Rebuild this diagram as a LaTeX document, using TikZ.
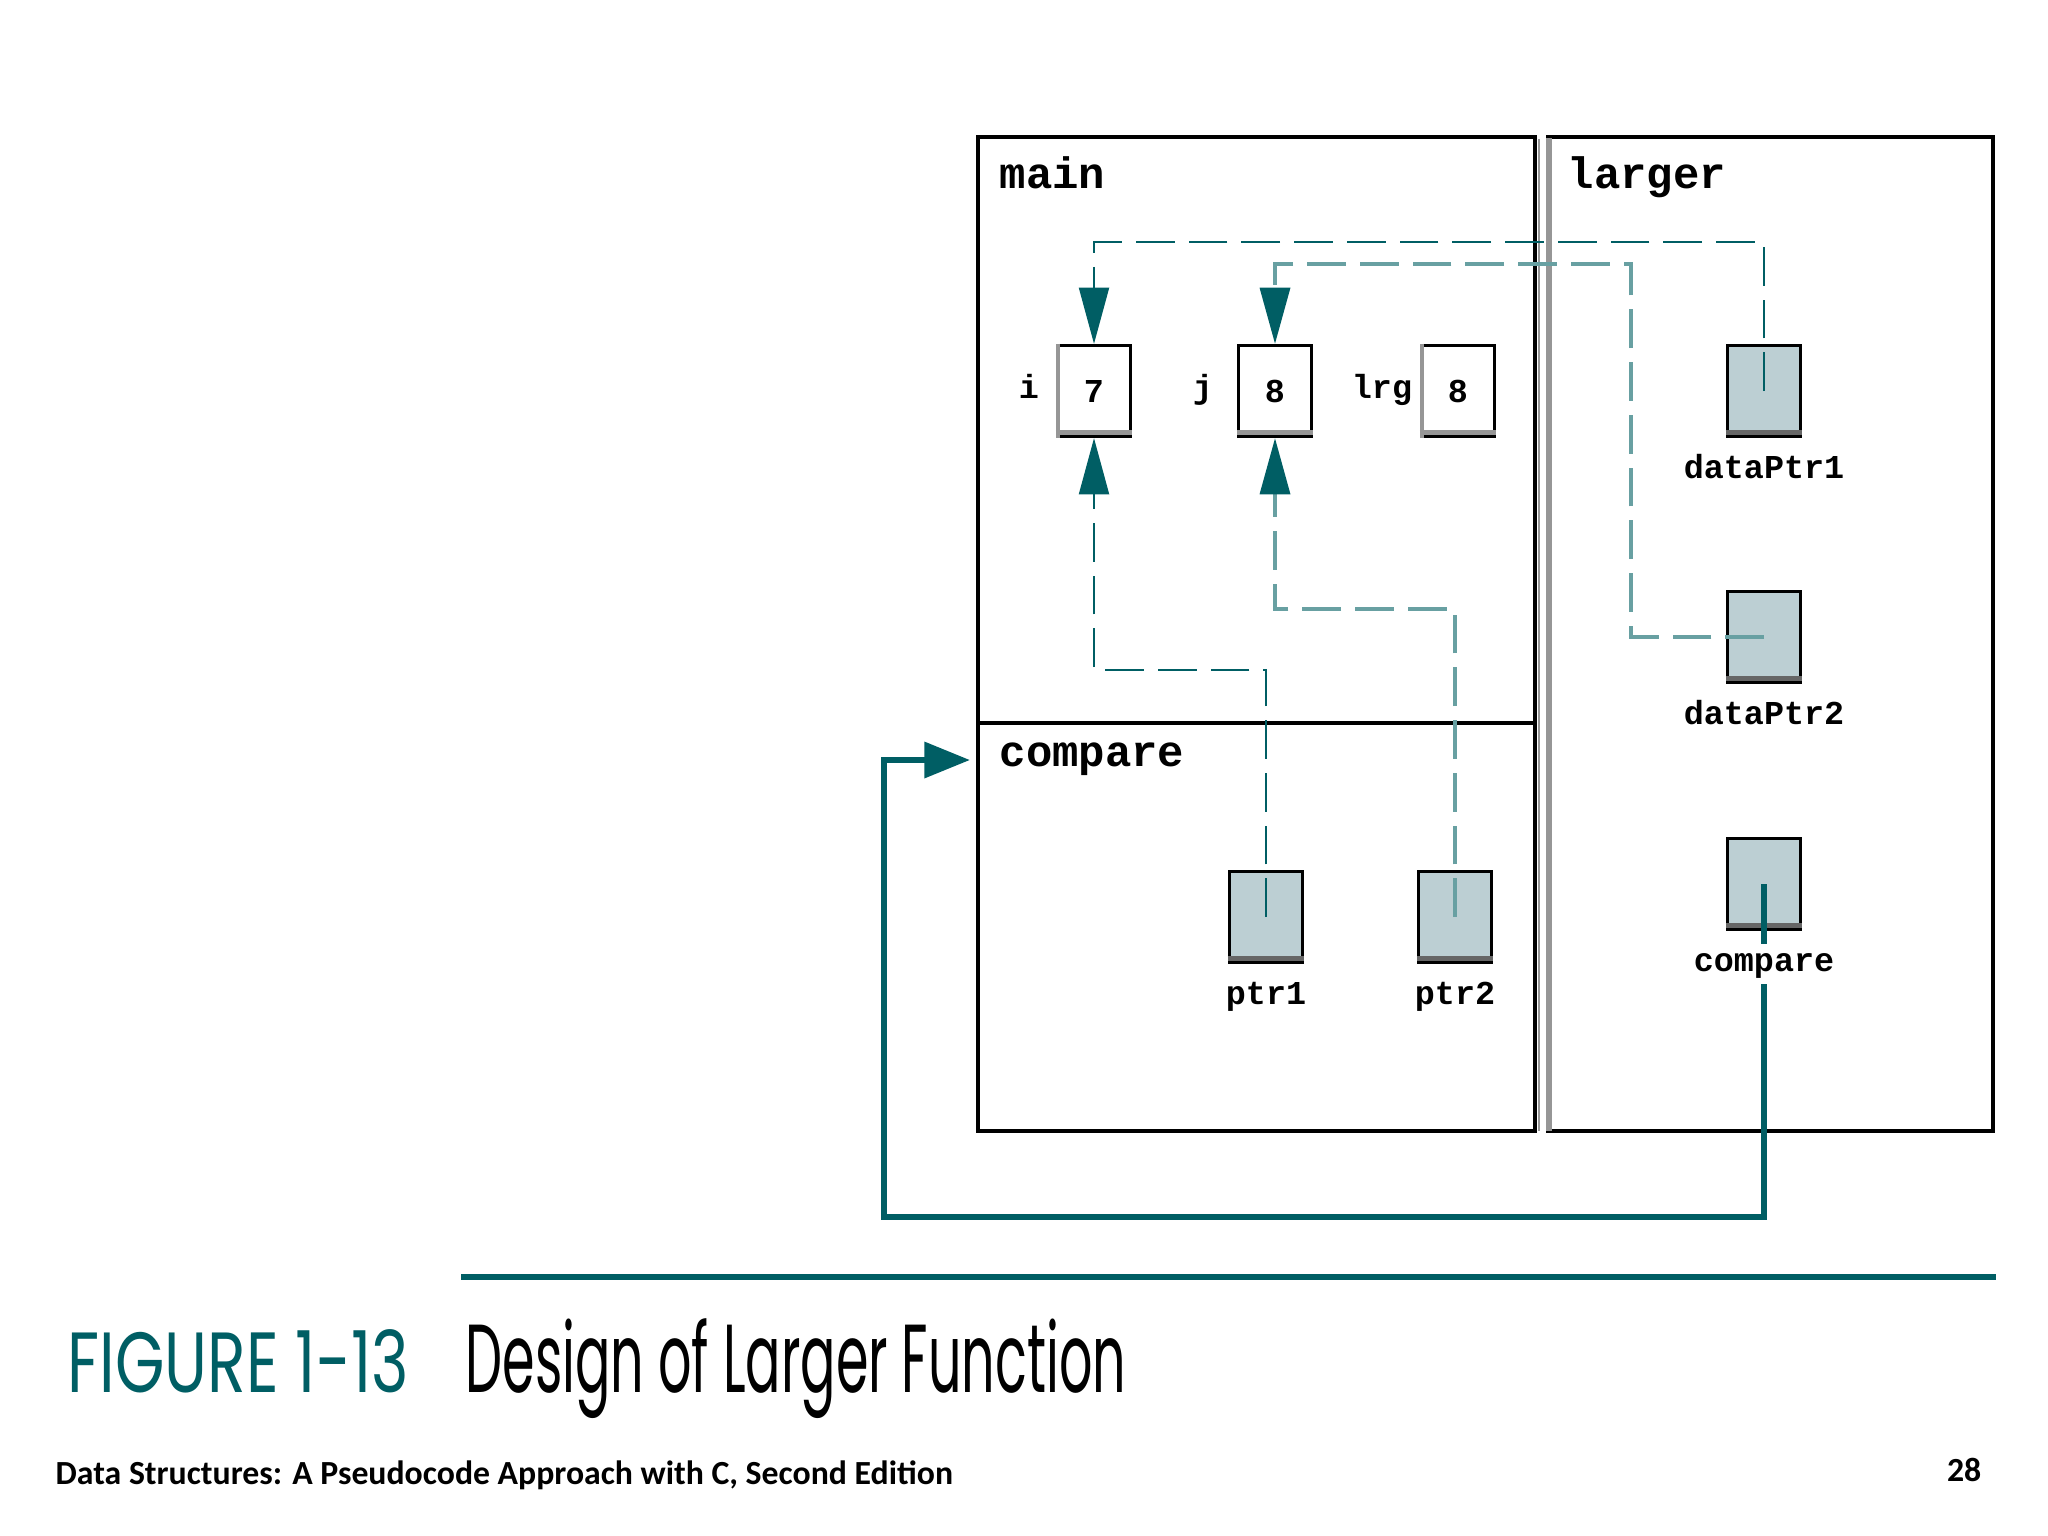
\documentclass[tikz,border=0pt]{standalone}
\usepackage{fontspec}
\setmainfont{Liberation Serif}
\newfontfamily\codefont{Liberation Mono}
\newfontfamily\capfont{Poppins}
\newfontfamily\footfont{Carlito}
\usetikzlibrary{arrows.meta, positioning, calc}

\definecolor{figteal}{RGB}{0,94,100}
\definecolor{liteteal}{RGB}{104,160,162}
\definecolor{ptrfill}{RGB}{188,207,211}
\definecolor{shadegray}{RGB}{150,150,150}

\tikzset{
  frame/.style={draw=black, line width=1pt},
  framelabel/.style={font=\codefont\bfseries\fontsize{12.5}{14}\selectfont, anchor=base west, inner sep=0pt},
  valbox/.style={draw=black, line width=0.9pt, fill=white, minimum width=0.73cm, minimum height=0.91cm,
    inner sep=0pt, font=\codefont\bfseries\fontsize{9.5}{11}\selectfont},
  ptrbox/.style={valbox, fill=ptrfill},
  varname/.style={font=\codefont\bfseries\fontsize{9.5}{11}\selectfont, inner sep=1pt,
    text height=0.7em, text depth=0.25em},
  link/.style={figteal, line width=0.7pt, dash pattern=on 11pt off 4pt,
    -{Triangle[length=16pt,width=8.5pt,color=figteal]}},
  faintlink/.style={link, liteteal, line width=1.1pt},
  calllink/.style={figteal, line width=1.8pt, -{Triangle[length=13pt,width=10pt]}},
}

\begin{document}
\begin{tikzpicture}[x=0.01cm, y=-0.01cm]
\fill[white] (0,0) rectangle (2048,1536);
\useasboundingbox (0,0) rectangle (2048,1536);

% frames of main/compare and larger
\draw[frame] (978,137) rectangle (1535,1131);
\draw[frame] (978,723) -- (1535,723);
\draw[shadegray, line width=0.8pt] (1539,139) -- (1539,1131);
\draw[frame] (1548,137) rectangle (1993,1131);
\draw[shadegray, line width=1.8pt] (1549,138) -- (1549,1131);

\node[framelabel] (mainlbl) at (999,188) {main};
\node[framelabel] (largerlbl) at (1567,188) {larger};
\node[framelabel] (cmplbl) at (999,766) {compare};

% variables of main
\foreach \nm/\x/\lx/\v in {i/1094/1029/7, j/1275/1203/8, lrg/1458/1382/8} {
  \node[valbox] (\nm) at (\x,391) {\v};
  \draw[shadegray, line width=1.4pt] ([yshift=1.6pt]\nm.south west) -- ([yshift=1.6pt]\nm.south east);
  \node[varname] (\nm name) at (\lx,391) {\nm};
}
\draw[shadegray, line width=1.2pt] ([xshift=0.6pt]i.north west) -- ([xshift=0.6pt]i.south west);
\draw[shadegray, line width=1.2pt] ([xshift=0.6pt]lrg.north west) -- ([xshift=0.6pt]lrg.south west);

% pointer cells
\foreach \nm/\x/\y in {dp1/1764/391, dp2/1764/637, fp/1764/884, p1/1266/917, p2/1455/917} {
  \node[ptrbox] (\nm) at (\x,\y) {};
  \draw[black!60, line width=1.4pt] ([yshift=1.6pt]\nm.south west) -- ([yshift=1.6pt]\nm.south east);
}

% bends of the connectors
\coordinate (rowA) at (0,242);
\coordinate (turnB) at (1631,264);
\coordinate (rowC) at (0,670);
\coordinate (rowD) at (0,609);
\coordinate (callL) at (884,1217);
\coordinate (callin) at (970,760);

% pointers back to i and j
\draw[link] (dp1.center) -- (dp1.center |- rowA) -| (i.north);
\draw[faintlink] (dp2.center) -| (turnB) -| (j.north);
\draw[link] (p1.center) |- (i.south |- rowC) -- (i.south);
\draw[faintlink] (p2.center) |- (j.south |- rowD) -- (j.south);
% function pointer
\draw[calllink] (fp.center) |- (callL) |- (callin);

% names under the pointer cells
\foreach \nm/\txt in {dp1/dataPtr1, dp2/dataPtr2, fp/compare, p1/ptr1, p2/ptr2}
  \node[varname, fill=white, below=0.12cm of \nm] (\nm name) {\txt};

% caption
\draw[figteal, line width=1.5pt] (461,1277) -- (1996,1277);
\node[anchor=base west, inner sep=0pt, text=figteal] (fignum) at (67,1392)
  {\resizebox{97pt}{17.9pt}{\capfont FIGURE 1-13}};
\node[anchor=base west, inner sep=0pt] (figtitle) at (465,1392)
  {\resizebox{187.8pt}{21pt}{\capfont Design of Larger Function}};

% footer
\node[anchor=base west, inner sep=0pt, font=\footfont\bfseries\fontsize{9.6}{11}\selectfont] (booktitle)
  at (55,1484) {Data Structures: A Pseudocode Approach with C, Second Edition};
\node[anchor=base east, inner sep=0pt, font=\footfont\bfseries\fontsize{9.6}{11}\selectfont] (pageno)
  at (1982,1481) {28};
\end{tikzpicture}
\end{document}
